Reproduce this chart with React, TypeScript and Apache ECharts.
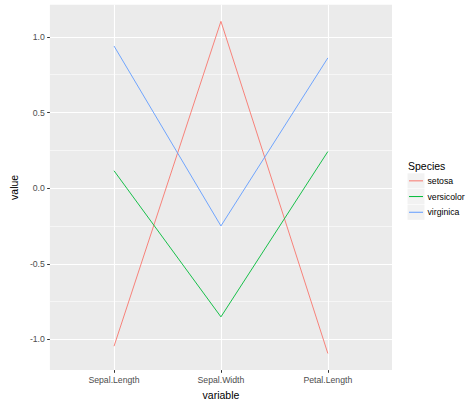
import React, { useEffect, useRef } from "react";
import * as echarts from "echarts";

const categories = ["Sepal.Length", "Sepal.Width", "Petal.Length"];
const speciesNames = ["setosa", "versicolor", "virginica"];
const setosa = [-1.045, 1.103, -1.093];
const versicolor = [0.115, -0.851, 0.242];
const virginica = [0.94, -0.25, 0.861];
const yTicks = [-1.0, -0.5, 0.0, 0.5, 1.0];
const yMinor = [-0.75, -0.25, 0.25, 0.75];
const xTicks = [1, 2, 3];
const colors = ["#F8766D", "#00BA38", "#619CFF"];

export default function App() {
  const ref = useRef<HTMLDivElement>(null);
  useEffect(() => {
    if (!ref.current) return;
    const chart = echarts.init(ref.current, undefined, { renderer: "svg" });
    const seriesValues = [setosa, versicolor, virginica];
    const font = "Liberation Sans, Arial, sans-serif";
    const legendTop = 173;
    const legendStep = 15.7;
    const keyLeft = 407.5;
    const keyW = 17;
    const legendGraphics: any[] = [];
    speciesNames.forEach((name, i) => {
      const top = legendTop + i * legendStep;
      const cy = top + legendStep / 2;
      legendGraphics.push({
        type: "rect",
        shape: { x: keyLeft, y: top + 0.3, width: keyW, height: legendStep - 0.6 },
        style: { fill: "#F2F2F2" },
        z: 10,
        silent: true,
      });
      legendGraphics.push({
        type: "line",
        shape: { x1: keyLeft + 1.5, y1: cy, x2: keyLeft + keyW - 1.5, y2: cy },
        style: { stroke: colors[i], lineWidth: 1 },
        z: 11,
        silent: true,
      });
      legendGraphics.push({
        type: "text",
        x: keyLeft + keyW + 3,
        y: cy,
        style: {
          text: name,
          fill: "#000000",
          font: `8.7px ${font}`,
          verticalAlign: "middle",
          align: "left",
        },
        z: 11,
        silent: true,
      });
    });
    const option: any = {
      animation: false,
      backgroundColor: "#FFFFFF",
      textStyle: { fontFamily: font },
      title: {
        text: "Species",
        left: 408,
        top: 160,
        padding: 0,
        textStyle: { fontSize: 10.5, fontWeight: "normal", color: "#000000", fontFamily: font },
      },
      grid: {
        left: 37,
        top: 4.7,
        right: 82,
        bottom: 31,
        show: true,
        backgroundColor: "#EBEBEB",
        borderWidth: 0,
      },
      legend: { show: false, data: speciesNames },
      graphic: legendGraphics,
      xAxis: {
        type: "value",
        min: 0.4,
        max: 3.6,
        splitNumber: 3,
        name: "variable",
        nameLocation: "middle",
        nameGap: 16,
        nameTextStyle: { fontSize: 10.5, color: "#000000", fontFamily: font },
        axisLine: { show: false, onZero: false },
        axisTick: { show: true, length: 2.7, lineStyle: { color: "#333333", width: 1 }, customValues: xTicks },
        axisLabel: {
          show: true,
          customValues: xTicks,
          margin: 5,
          fontSize: 8.7,
          color: "#4D4D4D",
          fontFamily: font,
          formatter: (v: number) => {
            const idx = Math.round(v) - 1;
            return categories[idx] ?? "";
          },
        },
        splitLine: { show: true, lineStyle: { color: "#FFFFFF", width: 1.1 } },
      },
      yAxis: {
        type: "value",
        min: -1.203,
        max: 1.213,
        splitNumber: 5,
        name: "value",
        nameLocation: "middle",
        nameGap: 24,
        nameTextStyle: { fontSize: 10.5, color: "#000000", fontFamily: font },
        axisLine: { show: false, onZero: false },
        axisTick: { show: true, length: 2.7, lineStyle: { color: "#333333", width: 1 }, customValues: yTicks },
        axisLabel: {
          show: true,
          customValues: yTicks,
          margin: 5,
          fontSize: 8.7,
          color: "#4D4D4D",
          fontFamily: font,
          formatter: (v: number) => v.toFixed(1),
        },
        splitLine: { show: true, lineStyle: { color: "#FFFFFF", width: 1.1 } },
      },
      series: speciesNames.map((name, i) => ({
        type: "line",
        name,
        data: seriesValues[i].map((v, j) => [j + 1, v]),
        symbol: "none",
        lineStyle: { color: colors[i], width: 0.9 },
        itemStyle: { color: colors[i] },
        color: colors[i],
        z: 3,
        ...(i === 0
          ? {
              markLine: {
                silent: true,
                symbol: "none",
                z: 1,
                label: { show: false },
                emphasis: { disabled: true },
                lineStyle: { color: "#FFFFFF", width: 0.55, type: "solid" },
                data: yMinor.map((v) => ({ yAxis: v })),
              },
            }
          : {}),
      })),
    };
    chart.setOption(option);
    return () => chart.dispose();
  }, []);
  return (
    <div
      ref={ref}
      style={{ position: "fixed", left: 0, top: 0, width: 474, height: 405 }}
    />
  );
}
